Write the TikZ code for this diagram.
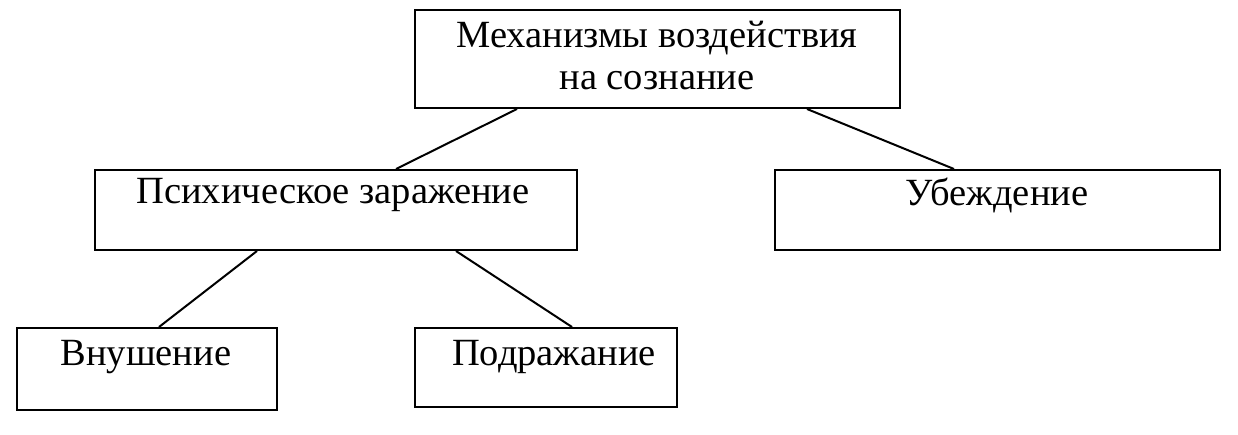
\documentclass[tikz,border=0pt]{standalone}
\usepackage{fontspec}
\setmainfont{Liberation Serif}
\begin{document}
\begin{tikzpicture}[x=1pt,y=-1pt,
    box/.style={draw,line width=2pt,inner sep=0pt},
    lbl/.style={font=\fontsize{38.5}{42}\selectfont,align=center}]
  \useasboundingbox (0,0) rectangle (1238,434);
  \node[box,minimum width=485pt,minimum height=98pt] (top) at (657.5,59) {};
  \node[box,minimum width=482pt,minimum height=80pt] (psy) at (336,210) {};
  \node[box,minimum width=445pt,minimum height=80pt] (ube) at (997.5,210) {};
  \node[box,minimum width=260pt,minimum height=82pt] (vnu) at (147,369) {};
  \node[box,minimum width=262pt,minimum height=79pt] (pod) at (546,367.5) {};
  \node[lbl] (ttop) at (657,56) {Механизмы воздействия\\на сознание};
  \node[lbl] (tpsy) at (333,195) {Психическое заражение};
  \node[lbl] (tube) at (997,195) {Убеждение};
  \node[lbl] (tvnu) at (146,357) {Внушение};
  \node[lbl] (tpod) at (554,357) {Подражание};
  \draw[line width=2pt] ([xshift=103pt]top.south west) -- ([xshift=302pt]psy.north west);
  \draw[line width=2pt] ([xshift=393pt]top.south west) -- ([xshift=180pt]ube.north west);
  \draw[line width=2pt] ([xshift=163pt]psy.south west) -- ([xshift=143pt]vnu.north west);
  \draw[line width=2pt] ([xshift=362pt]psy.south west) -- ([xshift=158pt]pod.north west);
\end{tikzpicture}
\end{document}
